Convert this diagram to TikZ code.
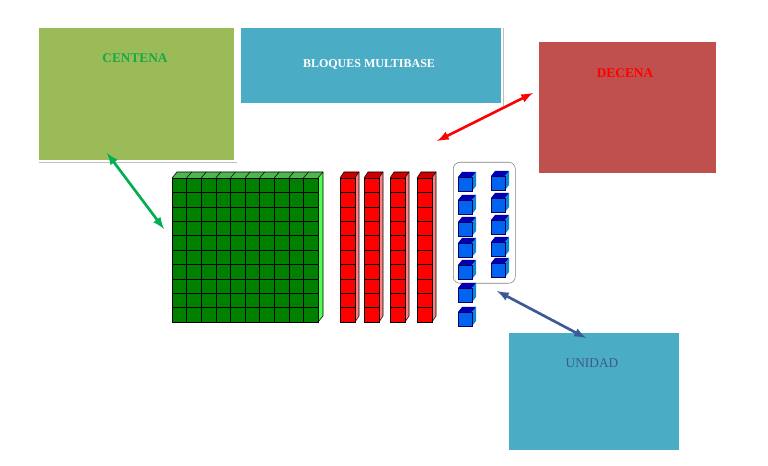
\documentclass[tikz,border=0pt]{standalone}
\usepackage{fontspec}
\setmainfont{Liberation Serif}
\definecolor{cgreen}{RGB}{155,187,89}
\definecolor{ctext}{RGB}{20,170,70}
\definecolor{cblue}{RGB}{75,172,198}
\definecolor{cred}{RGB}{192,80,77}
\definecolor{utext}{RGB}{60,90,140}
\definecolor{flat}{RGB}{0,128,0}
\definecolor{unit}{RGB}{0,100,240}
\definecolor{garr}{RGB}{0,176,80}
\definecolor{barr}{RGB}{60,90,150}
\begin{document}
\begin{tikzpicture}[x=0.75pt,y=-0.75pt,
 lbl/.style={draw=white,line width=2pt,anchor=north west,inner sep=0pt},
 arr/.style={<->,>=latex,line width=2pt}]
\fill[white] (0,0) rectangle (768,466);
% boxes
\fill[gray!50] (39,28) rectangle (237,163);
\node[lbl,fill=cgreen,minimum width=148.5pt,minimum height=101pt] (cen) at (36,25) {};
\node[text=ctext,font=\bfseries] at (135,58) {CENTENA};
\fill[gray!50] (241,28) rectangle (504,106);
\node[lbl,fill=cblue,minimum width=197pt,minimum height=58.5pt] (blo) at (238,25) {};
\node[text=white,font=\bfseries\small] at (369,65) {BLOQUES MULTIBASE};
\fill[gray!50] (539,42) rectangle (719,176);
\node[lbl,fill=cred,minimum width=135pt,minimum height=100.5pt] (dec) at (536,39) {};
\node[text=red,font=\bfseries] at (625,73) {DECENA};
\fill[gray!50] (509,333) rectangle (682,453);
\node[lbl,fill=cblue,minimum width=130pt,minimum height=90pt] (uni) at (506,330) {};
\node[text=utext] at (592,363) {UNIDAD};
% green flat
\fill[green!60!black!70] (172,178) -- (177,172) -- (323,172) -- (318,178) -- cycle;
\fill[green!70] (318,178) -- (323,172) -- (323,316) -- (318,322) -- cycle;
\draw[fill=flat] (172,178) rectangle (318,322);
\foreach \i in {1,...,9}{\draw (172+14.6*\i,178) -- (172+14.6*\i,322);
 \draw (172,178+14.4*\i) -- (318,178+14.4*\i);}
\draw (172,178) -- (177,172) -- (323,172) -- (323,316) -- (318,322);
\foreach \i in {1,...,10}{\draw (172+14.6*\i,178) -- (177+14.6*\i,172);}
% red rods
\foreach \x in {340,364,390,417}{
 \fill[red!80!black] (\x,178) -- (\x+4,172) -- (\x+19,172) -- (\x+15,178) -- cycle;
 \fill[red!50] (\x+15,178) -- (\x+19,172) -- (\x+19,316) -- (\x+15,322) -- cycle;
 \draw[fill=red] (\x,178) rectangle (\x+15,322);
 \foreach \j in {1,...,9}{\draw (\x,178+14.4*\j) -- (\x+15,178+14.4*\j);}
 \draw (\x,178) -- (\x+4,172) -- (\x+19,172) -- (\x+19,316) -- (\x+15,322);
 \draw (\x+15,178) -- (\x+19,172);}
% units
\node[draw=gray,rounded corners=5pt,minimum width=46.5pt,minimum height=90.75pt,anchor=north west,inner sep=0pt] (grp) at (453,162) {};
\foreach \x/\y in {458/177,458/200,458/222,458/243,458/265,491/176,491/198,491/220,491/242,491/263,458/288,458/312}{
 \fill[blue!70!black] (\x,\y) -- (\x+4,\y-5) -- (\x+18,\y-5) -- (\x+14,\y) -- cycle;
 \fill[cyan!70!blue] (\x+14,\y) -- (\x+18,\y-5) -- (\x+18,\y+9) -- (\x+14,\y+14) -- cycle;
 \draw[blue!40!black,fill=unit] (\x,\y) rectangle (\x+14,\y+14);}
% arrows
\coordinate (ga) at (107,153); \coordinate (gb) at (164,229);
\draw[arr,garr] (ga) -- (gb);
\coordinate (ra) at (437,141); \coordinate (rb) at (533,93);
\draw[arr,red] (ra) -- (rb);
\coordinate (ba) at (497,291); \coordinate (bb) at (586,338);
\draw[arr,barr] (ba) -- (bb);
\end{tikzpicture}
\end{document}
